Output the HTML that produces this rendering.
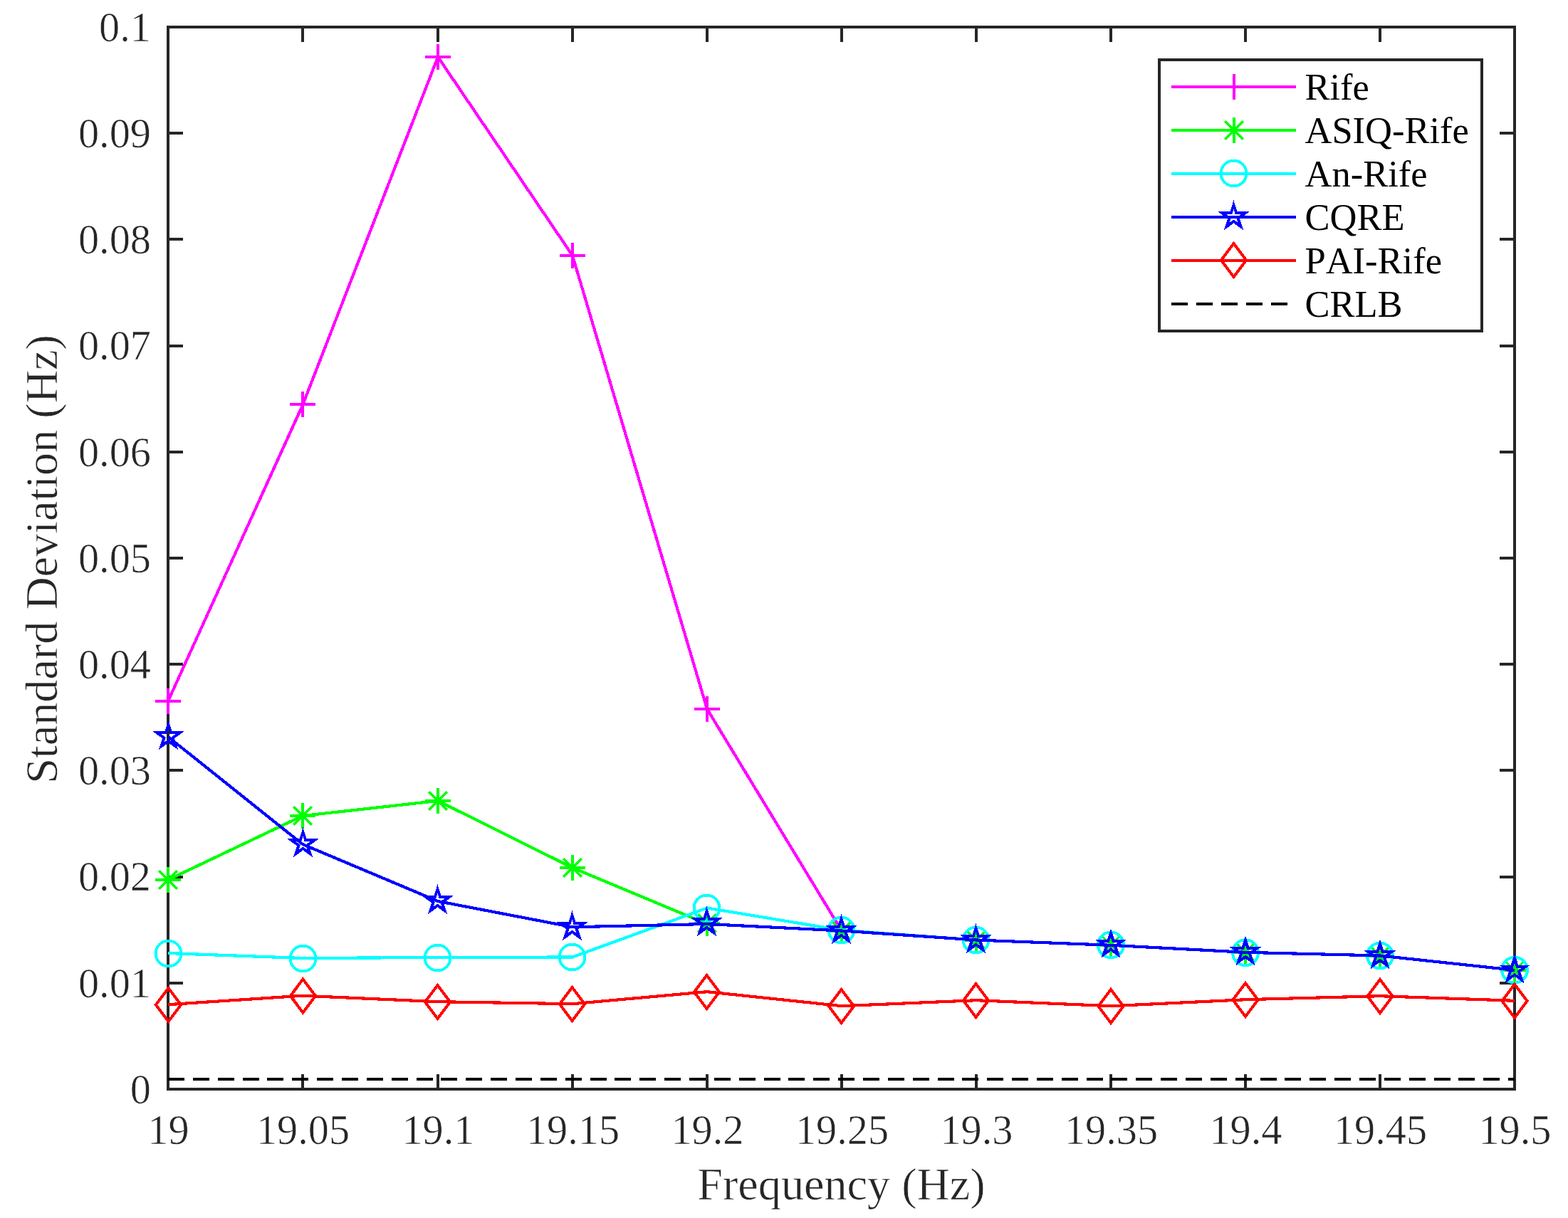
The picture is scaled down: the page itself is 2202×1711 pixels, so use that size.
<!DOCTYPE html>
<html lang="en">
<head>
<meta charset="utf-8">
<title>Standard Deviation vs Frequency</title>
<style>
html,body{margin:0;padding:0;background:#fff;}
body{width:2202px;height:1711px;overflow:hidden;}
svg{display:block;}
</style>
</head>
<body>
<svg width="2202" height="1711" viewBox="0 0 2202 1711">
<rect width="2202" height="1711" fill="#fff"/>
<g id="axes" stroke="#262626" stroke-width="4" fill="none" stroke-linecap="butt">
<rect x="236" y="38" width="1891" height="1492"/>
<path d="M425 1530V1509M425 38V59M615 1530V1509M615 38V59M804 1530V1509M804 38V59M993 1530V1509M993 38V59M1182 1530V1509M1182 38V59M1371 1530V1509M1371 38V59M1560 1530V1509M1560 38V59M1749 1530V1509M1749 38V59M1938 1530V1509M1938 38V59M236 1381H257M2127 1381H2106M236 1232H257M2127 1232H2106M236 1082H257M2127 1082H2106M236 933H257M2127 933H2106M236 784H257M2127 784H2106M236 635H257M2127 635H2106M236 486H257M2127 486H2106M236 336H257M2127 336H2106M236 187H257M2127 187H2106"/>
</g>
<g id="ticklabels" font-family="'Liberation Serif', 'Times New Roman', serif" font-size="58.33" style="font-kerning:none" fill="#262626" stroke="#fff" stroke-width="0.6">
<text x="236.5" y="1607" text-anchor="middle">19</text>
<text x="425.5" y="1607" text-anchor="middle">19.05</text>
<text x="615.5" y="1607" text-anchor="middle">19.1</text>
<text x="804.5" y="1607" text-anchor="middle">19.15</text>
<text x="993.5" y="1607" text-anchor="middle">19.2</text>
<text x="1182.5" y="1607" text-anchor="middle">19.25</text>
<text x="1371.5" y="1607" text-anchor="middle">19.3</text>
<text x="1560.5" y="1607" text-anchor="middle">19.35</text>
<text x="1749.5" y="1607" text-anchor="middle">19.4</text>
<text x="1938.5" y="1607" text-anchor="middle">19.45</text>
<text x="2127.5" y="1607" text-anchor="middle">19.5</text>
<text x="212" y="1549.7" text-anchor="end">0</text>
<text x="212" y="1400.5" text-anchor="end">0.01</text>
<text x="212" y="1251.3" text-anchor="end">0.02</text>
<text x="212" y="1102.1" text-anchor="end">0.03</text>
<text x="212" y="952.9" text-anchor="end">0.04</text>
<text x="212" y="803.7" text-anchor="end">0.05</text>
<text x="212" y="654.5" text-anchor="end">0.06</text>
<text x="212" y="505.3" text-anchor="end">0.07</text>
<text x="212" y="356.1" text-anchor="end">0.08</text>
<text x="212" y="206.9" text-anchor="end">0.09</text>
<text x="212" y="57.7" text-anchor="end">0.1</text>
</g>
<g id="axislabels" font-family="'Liberation Serif', 'Times New Roman', serif" font-size="64.17" style="font-kerning:none" fill="#262626" stroke="#fff" stroke-width="0.6">
<text x="1181.5" y="1685" text-anchor="middle">Frequency (Hz)</text>
<text transform="translate(79.5 785.5) rotate(-90)" text-anchor="middle">Standard Deviation (Hz)</text>
</g>
<g id="data" shape-rendering="crispEdges">
<g id="rife">
<polyline points="236,985 425,569 615,80 804,359 993,996 1182,1307.5 1371,1320.5 1560,1327.8 1749,1337.8 1938,1342.5 2127,1362.8" fill="none" stroke="#ff00ff" stroke-width="4.17" stroke-linejoin="round"/>
<path d="M218 985H254M236 967V1003" stroke="#ff00ff" stroke-width="4" fill="none"/>
<path d="M407 568H443M425 550V586" stroke="#ff00ff" stroke-width="4" fill="none"/>
<path d="M597 80H633M615 62V98" stroke="#ff00ff" stroke-width="4" fill="none"/>
<path d="M786 359H822M804 341V377" stroke="#ff00ff" stroke-width="4" fill="none"/>
<path d="M975 996H1011M993 978V1014" stroke="#ff00ff" stroke-width="4" fill="none"/>
<path d="M1164 1308H1200M1182 1290V1326" stroke="#ff00ff" stroke-width="4" fill="none"/>
<path d="M1353 1321H1389M1371 1303V1339" stroke="#ff00ff" stroke-width="4" fill="none"/>
<path d="M1542 1327.6H1578M1560 1309.6V1345.6" stroke="#ff00ff" stroke-width="4" fill="none"/>
<path d="M1731 1338H1767M1749 1320V1356" stroke="#ff00ff" stroke-width="4" fill="none"/>
<path d="M1920 1343H1956M1938 1325V1361" stroke="#ff00ff" stroke-width="4" fill="none"/>
<path d="M2109 1363.2H2145M2127 1345.2V1381.2" stroke="#ff00ff" stroke-width="4" fill="none"/>
</g>
<g id="asiq">
<polyline points="236,1236 425,1146 615,1125 804,1219 993,1298 1182,1307.5 1371,1320.5 1560,1327.8 1749,1337.8 1938,1342.5 2127,1362.8" fill="none" stroke="#00ff00" stroke-width="4.17" stroke-linejoin="round"/>
<path d="M218 1236H254M236 1218V1254" stroke="#00ff00" stroke-width="4" fill="none"/><path d="M223.1 1223.1L248.9 1248.9M223.1 1248.9L248.9 1223.1" stroke="#00ff00" stroke-width="3" fill="none"/>
<path d="M407 1146H443M425 1128V1164" stroke="#00ff00" stroke-width="4" fill="none"/><path d="M412.1 1133.1L437.9 1158.9M412.1 1158.9L437.9 1133.1" stroke="#00ff00" stroke-width="3" fill="none"/>
<path d="M597 1125H633M615 1107V1143" stroke="#00ff00" stroke-width="4" fill="none"/><path d="M602.1 1112.1L627.9 1137.9M602.1 1137.9L627.9 1112.1" stroke="#00ff00" stroke-width="3" fill="none"/>
<path d="M786 1219H822M804 1201V1237" stroke="#00ff00" stroke-width="4" fill="none"/><path d="M791.1 1206.1L816.9 1231.9M791.1 1231.9L816.9 1206.1" stroke="#00ff00" stroke-width="3" fill="none"/>
<path d="M975 1297H1011M993 1279V1315" stroke="#00ff00" stroke-width="4" fill="none"/><path d="M980.1 1284.1L1005.9 1309.9M980.1 1309.9L1005.9 1284.1" stroke="#00ff00" stroke-width="3" fill="none"/>
<path d="M1164 1308H1200M1182 1290V1326" stroke="#00ff00" stroke-width="4" fill="none"/><path d="M1169.1 1295.1L1194.9 1320.9M1169.1 1320.9L1194.9 1295.1" stroke="#00ff00" stroke-width="3" fill="none"/>
<path d="M1353 1321H1389M1371 1303V1339" stroke="#00ff00" stroke-width="4" fill="none"/><path d="M1358.1 1308.1L1383.9 1333.9M1358.1 1333.9L1383.9 1308.1" stroke="#00ff00" stroke-width="3" fill="none"/>
<path d="M1542 1327.6H1578M1560 1309.6V1345.6" stroke="#00ff00" stroke-width="4" fill="none"/><path d="M1547.1 1314.7L1572.9 1340.5M1547.1 1340.5L1572.9 1314.7" stroke="#00ff00" stroke-width="3" fill="none"/>
<path d="M1731 1338H1767M1749 1320V1356" stroke="#00ff00" stroke-width="4" fill="none"/><path d="M1736.1 1325.1L1761.9 1350.9M1736.1 1350.9L1761.9 1325.1" stroke="#00ff00" stroke-width="3" fill="none"/>
<path d="M1920 1343H1956M1938 1325V1361" stroke="#00ff00" stroke-width="4" fill="none"/><path d="M1925.1 1330.1L1950.9 1355.9M1925.1 1355.9L1950.9 1330.1" stroke="#00ff00" stroke-width="3" fill="none"/>
<path d="M2109 1363.2H2145M2127 1345.2V1381.2" stroke="#00ff00" stroke-width="4" fill="none"/><path d="M2114.1 1350.3L2139.9 1376.1M2114.1 1376.1L2139.9 1350.3" stroke="#00ff00" stroke-width="3" fill="none"/>
</g>
<g id="an">
<polyline points="236,1339 425,1346 615,1345 804,1344.5 993,1275.5 1182,1306.8 1371,1320.5 1560,1327.8 1749,1337.8 1938,1342.5 2127,1362.8" fill="none" stroke="#00ffff" stroke-width="4.17" stroke-linejoin="round"/>
<circle cx="236.5" cy="1339.5" r="17.9" stroke="#00ffff" stroke-width="4" fill="none"/>
<circle cx="425.5" cy="1346.5" r="17.9" stroke="#00ffff" stroke-width="4" fill="none"/>
<circle cx="614.5" cy="1345.5" r="17.9" stroke="#00ffff" stroke-width="4" fill="none"/>
<circle cx="803.5" cy="1344.5" r="17.9" stroke="#00ffff" stroke-width="4" fill="none"/>
<circle cx="992.5" cy="1275.5" r="17.9" stroke="#00ffff" stroke-width="4" fill="none"/>
<circle cx="1181.5" cy="1306.5" r="17.9" stroke="#00ffff" stroke-width="4" fill="none"/>
<circle cx="1370.5" cy="1320.5" r="17.9" stroke="#00ffff" stroke-width="4" fill="none"/>
<circle cx="1560" cy="1327.4" r="17.9" stroke="#00ffff" stroke-width="4" fill="none"/>
<circle cx="1749" cy="1338.2" r="17.9" stroke="#00ffff" stroke-width="4" fill="none"/>
<circle cx="1938" cy="1342.5" r="17.9" stroke="#00ffff" stroke-width="4" fill="none"/>
<circle cx="2127" cy="1362.7" r="17.9" stroke="#00ffff" stroke-width="4" fill="none"/>
</g>
<g id="cqre">
<polyline points="236,1035 425,1186 615,1266 804,1302.3 993,1298 1182,1307.5 1371,1320.5 1560,1327.8 1749,1337.8 1938,1342.5 2127,1362.8" fill="none" stroke="#0000ff" stroke-width="4.17" stroke-linejoin="round"/>
<polygon points="236.5,1017.9 240.25,1029.44 252.38,1029.44 242.57,1036.57 246.32,1048.11 236.5,1040.98 226.68,1048.11 230.43,1036.57 220.62,1029.44 232.75,1029.44" stroke="#0000ff" stroke-width="4" fill="none" stroke-linejoin="miter" stroke-miterlimit="10"/>
<polygon points="425.5,1168.9 429.25,1180.44 441.38,1180.44 431.57,1187.57 435.32,1199.11 425.5,1191.98 415.68,1199.11 419.43,1187.57 409.62,1180.44 421.75,1180.44" stroke="#0000ff" stroke-width="4" fill="none" stroke-linejoin="miter" stroke-miterlimit="10"/>
<polygon points="614.5,1248.9 618.25,1260.44 630.38,1260.44 620.57,1267.57 624.32,1279.11 614.5,1271.98 604.68,1279.11 608.43,1267.57 598.62,1260.44 610.75,1260.44" stroke="#0000ff" stroke-width="4" fill="none" stroke-linejoin="miter" stroke-miterlimit="10"/>
<polygon points="803.5,1285.9 807.25,1297.44 819.38,1297.44 809.57,1304.57 813.32,1316.11 803.5,1308.98 793.68,1316.11 797.43,1304.57 787.62,1297.44 799.75,1297.44" stroke="#0000ff" stroke-width="4" fill="none" stroke-linejoin="miter" stroke-miterlimit="10"/>
<polygon points="992.5,1279.9 996.25,1291.44 1008.38,1291.44 998.57,1298.57 1002.32,1310.11 992.5,1302.98 982.68,1310.11 986.43,1298.57 976.62,1291.44 988.75,1291.44" stroke="#0000ff" stroke-width="4" fill="none" stroke-linejoin="miter" stroke-miterlimit="10"/>
<polygon points="1181.5,1290.9 1185.25,1302.44 1197.38,1302.44 1187.57,1309.57 1191.32,1321.11 1181.5,1313.98 1171.68,1321.11 1175.43,1309.57 1165.62,1302.44 1177.75,1302.44" stroke="#0000ff" stroke-width="4" fill="none" stroke-linejoin="miter" stroke-miterlimit="10"/>
<polygon points="1370.5,1303.9 1374.25,1315.44 1386.38,1315.44 1376.57,1322.57 1380.32,1334.11 1370.5,1326.98 1360.68,1334.11 1364.43,1322.57 1354.62,1315.44 1366.75,1315.44" stroke="#0000ff" stroke-width="4" fill="none" stroke-linejoin="miter" stroke-miterlimit="10"/>
<polygon points="1560,1310.5 1563.75,1322.04 1575.88,1322.04 1566.07,1329.17 1569.82,1340.71 1560,1333.58 1550.18,1340.71 1553.93,1329.17 1544.12,1322.04 1556.25,1322.04" stroke="#0000ff" stroke-width="4" fill="none" stroke-linejoin="miter" stroke-miterlimit="10"/>
<polygon points="1749,1320.9 1752.75,1332.44 1764.88,1332.44 1755.07,1339.57 1758.82,1351.11 1749,1343.98 1739.18,1351.11 1742.93,1339.57 1733.12,1332.44 1745.25,1332.44" stroke="#0000ff" stroke-width="4" fill="none" stroke-linejoin="miter" stroke-miterlimit="10"/>
<polygon points="1938,1325.9 1941.75,1337.44 1953.88,1337.44 1944.07,1344.57 1947.82,1356.11 1938,1348.98 1928.18,1356.11 1931.93,1344.57 1922.12,1337.44 1934.25,1337.44" stroke="#0000ff" stroke-width="4" fill="none" stroke-linejoin="miter" stroke-miterlimit="10"/>
<polygon points="2127,1346.1 2130.75,1357.64 2142.88,1357.64 2133.07,1364.77 2136.82,1376.31 2127,1369.18 2117.18,1376.31 2120.93,1364.77 2111.12,1357.64 2123.25,1357.64" stroke="#0000ff" stroke-width="4" fill="none" stroke-linejoin="miter" stroke-miterlimit="10"/>
</g>
<g id="pai">
<polyline points="236,1411.2 425,1398.7 615,1407.2 804,1410.2 993,1393.2 1182,1413.2 1371,1405.2 1560,1413.2 1749,1404.2 1938,1399.2 2127,1405.8" fill="none" stroke="#ff0000" stroke-width="4.17" stroke-linejoin="round"/>
<polygon points="236.5,1388 254.1,1411.5 236.5,1435 218.9,1411.5" stroke="#ff0000" stroke-width="4" fill="none" stroke-linejoin="miter" stroke-miterlimit="10"/>
<polygon points="425.5,1375.5 443.1,1399 425.5,1422.5 407.9,1399" stroke="#ff0000" stroke-width="4" fill="none" stroke-linejoin="miter" stroke-miterlimit="10"/>
<polygon points="614.5,1384 632.1,1407.5 614.5,1431 596.9,1407.5" stroke="#ff0000" stroke-width="4" fill="none" stroke-linejoin="miter" stroke-miterlimit="10"/>
<polygon points="803.5,1387 821.1,1410.5 803.5,1434 785.9,1410.5" stroke="#ff0000" stroke-width="4" fill="none" stroke-linejoin="miter" stroke-miterlimit="10"/>
<polygon points="992.5,1370 1010.1,1393.5 992.5,1417 974.9,1393.5" stroke="#ff0000" stroke-width="4" fill="none" stroke-linejoin="miter" stroke-miterlimit="10"/>
<polygon points="1181.5,1390 1199.1,1413.5 1181.5,1437 1163.9,1413.5" stroke="#ff0000" stroke-width="4" fill="none" stroke-linejoin="miter" stroke-miterlimit="10"/>
<polygon points="1370.5,1382 1388.1,1405.5 1370.5,1429 1352.9,1405.5" stroke="#ff0000" stroke-width="4" fill="none" stroke-linejoin="miter" stroke-miterlimit="10"/>
<polygon points="1560,1390 1577.6,1413.5 1560,1437 1542.4,1413.5" stroke="#ff0000" stroke-width="4" fill="none" stroke-linejoin="miter" stroke-miterlimit="10"/>
<polygon points="1749,1381 1766.6,1404.5 1749,1428 1731.4,1404.5" stroke="#ff0000" stroke-width="4" fill="none" stroke-linejoin="miter" stroke-miterlimit="10"/>
<polygon points="1938,1376 1955.6,1399.5 1938,1423 1920.4,1399.5" stroke="#ff0000" stroke-width="4" fill="none" stroke-linejoin="miter" stroke-miterlimit="10"/>
<polygon points="2127,1382.6 2144.6,1406.1 2127,1429.6 2109.4,1406.1" stroke="#ff0000" stroke-width="4" fill="none" stroke-linejoin="miter" stroke-miterlimit="10"/>
</g>
<path id="crlb" d="M236 1516H2127" stroke="#000" stroke-width="4" fill="none" stroke-dasharray="23 11.855"/>
</g>
<g id="legend">
<rect x="1628" y="84" width="453" height="381" fill="#fff" stroke="#262626" stroke-width="4"/>
<g shape-rendering="crispEdges"><path d="M1645 122H1820" stroke="#ff00ff" stroke-width="4" fill="none"/>
<path d="M1715 122H1751M1733 104V140" stroke="#ff00ff" stroke-width="4" fill="none"/></g>
<g shape-rendering="crispEdges"><path d="M1645 183H1820" stroke="#00ff00" stroke-width="4" fill="none"/>
<path d="M1715 183H1751M1733 165V201" stroke="#00ff00" stroke-width="4" fill="none"/><path d="M1720.1 170.1L1745.9 195.9M1720.1 195.9L1745.9 170.1" stroke="#00ff00" stroke-width="3" fill="none"/></g>
<g shape-rendering="crispEdges"><path d="M1645 244H1820" stroke="#00ffff" stroke-width="4" fill="none"/>
<circle cx="1732.5" cy="243.5" r="17.9" stroke="#00ffff" stroke-width="4" fill="none"/></g>
<g shape-rendering="crispEdges"><path d="M1645 305H1820" stroke="#0000ff" stroke-width="4" fill="none"/>
<polygon points="1732.5,287.9 1736.25,299.44 1748.38,299.44 1738.57,306.57 1742.32,318.11 1732.5,310.98 1722.68,318.11 1726.43,306.57 1716.62,299.44 1728.75,299.44" stroke="#0000ff" stroke-width="4" fill="none" stroke-linejoin="miter" stroke-miterlimit="10"/></g>
<g shape-rendering="crispEdges"><path d="M1645 366H1820" stroke="#ff0000" stroke-width="4" fill="none"/>
<polygon points="1732.5,342 1750.1,365.5 1732.5,389 1714.9,365.5" stroke="#ff0000" stroke-width="4" fill="none" stroke-linejoin="miter" stroke-miterlimit="10"/></g>
<path d="M1645 427H1820" stroke="#000" stroke-width="4" fill="none" stroke-dasharray="23 12"/>
<g font-family="'Liberation Serif', 'Times New Roman', serif" font-size="52.5" style="font-kerning:none" fill="#000">
<text x="1832.5" y="140">Rife</text>
<text x="1832.5" y="201">ASIQ-Rife</text>
<text x="1832.5" y="262">An-Rife</text>
<text x="1832.5" y="323">CQRE</text>
<text x="1832.5" y="384">PAI-Rife</text>
<text x="1832.5" y="445">CRLB</text>
</g></g>
</svg>
</body>
</html>
